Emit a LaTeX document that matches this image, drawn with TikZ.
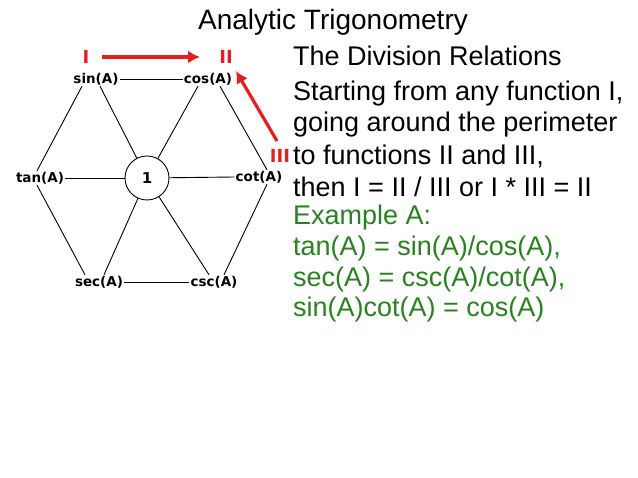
\documentclass[tikz,border=0pt]{standalone}
\usepackage{fontspec}
\setmainfont{Liberation Sans}
\newfontfamily\lblfont{DejaVu Sans}
\usetikzlibrary{arrows.meta}
\definecolor{grn}{RGB}{40,130,30}
\definecolor{rd}{RGB}{230,30,30}
\begin{document}
\begin{tikzpicture}[x=1pt,y=-1pt,
  lbl/.style={font=\lblfont\bfseries\fontsize{13.5}{14}\selectfont,inner sep=1pt},
  rl/.style={text=rd,font=\lblfont\bfseries\fontsize{18}{19}\selectfont,inner sep=0pt},
  txt/.style={anchor=west,font=\fontsize{27}{28}\selectfont,inner sep=0pt},
  edge/.style={line width=0.9pt},
  rarr/.style={draw=rd,line width=3.2pt,-{Latex[length=12pt,width=13pt]}}]
\useasboundingbox (0,0) rectangle (638,478);
\node[lbl] (sin) at (96,79) {sin(A)};
\node[lbl] (cos) at (208,79) {cos(A)};
\node[lbl] (tan) at (40,178) {tan(A)};
\node[lbl] (cot) at (259,177) {cot(A)};
\node[lbl] (sec) at (99,282) {sec(A)};
\node[lbl] (csc) at (214,282) {csc(A)};
\node[draw,circle,minimum size=44pt,line width=0.9pt,font=\lblfont\bfseries\fontsize{15}{16}\selectfont] (one) at (147,178) {1};
\draw[edge] (sin.east) -- (cos.west);
\draw[edge] (sec.east) -- (csc.west);
\draw[edge] (tan.east) -- (one);
\draw[edge] (one) -- (cot.west);
\path (sin.south) ++(-14,0) coordinate (s1) (tan.north) ++(-3,0) coordinate (t1);
\draw[edge] (s1) -- (t1);
\path (tan.south) ++(-3,0) coordinate (t2) (sec.north) ++(-14,0) coordinate (e1);
\draw[edge] (t2) -- (e1);
\path (cos.south) ++(12,0) coordinate (c1) (cot.north) ++(8,0) coordinate (k1);
\draw[edge] (c1) -- (k1);
\path (cot.south) ++(8,0) coordinate (k2) (csc.north) ++(10,0) coordinate (z1);
\draw[edge] (k2) -- (z1);
\path (sin.south) ++(4,0) coordinate (s2);
\draw[edge] (s2) -- (one);
\path (cos.south) ++(-10,0) coordinate (c2);
\draw[edge] (c2) -- (one);
\path (sec.north) ++(5,0) coordinate (e2);
\draw[edge] (e2) -- (one);
\path (csc.north) ++(-5,0) coordinate (z2);
\draw[edge] (z2) -- (one);
\node[rl] (I) at (86,57) {I};
\node[rl] (II) at (226,57) {II};
\node[rl] (III) at (280,156) {III};
\coordinate (a1) at (102,57);
\coordinate (a2) at (200,57);
\draw[rarr] (a1) -- (a2);
\coordinate (b1) at (277,141);
\coordinate (b2) at (236,71);
\draw[rarr] (b1) -- (b2);
\node[font=\fontsize{28}{30}\selectfont,inner sep=0pt] (title) at (333,22) {Analytic Trigonometry};
\node[txt] (t1) at (293,56) {The Division Relations};
\node[txt] (t2) at (293,94) {Starting from any function I,};
\node[txt] (t3) at (293,125) {going around the perimeter};
\node[txt] (t4) at (293,156) {to functions II and III,};
\node[txt] (t5) at (293,187) {then I = II / III or I * III = II};
\node[txt,text=grn] (g1) at (293,218) {Example A:};
\node[txt,text=grn] (g2) at (293,249) {tan(A) = sin(A)/cos(A),};
\node[txt,text=grn] (g3) at (293,280) {sec(A) = csc(A)/cot(A),};
\node[txt,text=grn] (g4) at (293,310) {sin(A)cot(A) = cos(A)};
\end{tikzpicture}
\end{document}
